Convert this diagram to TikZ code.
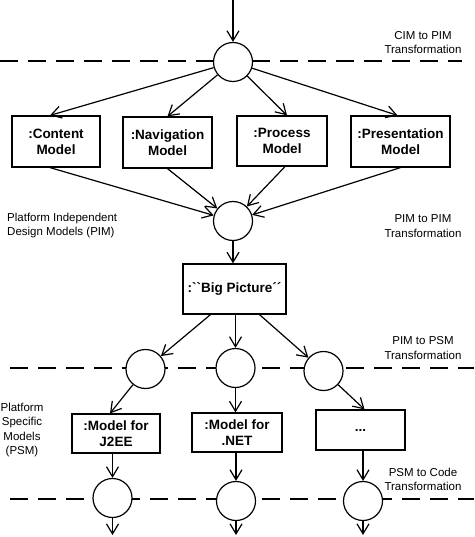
\documentclass[tikz,border=0pt]{standalone}
\usepackage{fontspec}
\newfontfamily\arial{Liberation Sans}
\usetikzlibrary{arrows.meta}

\begin{document}
\begin{tikzpicture}[x=1pt,y=-1pt,
	model/.style={draw,line width=1.2pt,align=center,inner sep=2pt,font=\arial\bfseries\fontsize{13.5}{16}\selectfont},
	trafo/.style={circle,draw,fill=white,line width=1.2pt,minimum size=39,inner sep=0pt},
	note/.style={align=center,inner sep=0pt,font=\arial\fontsize{11.5}{14.5}\selectfont},
	level/.style={line width=2.2pt,dash pattern=on 18pt off 10pt},
	flow/.style={-{Straight Barb[length=10pt,width=12pt]},line width=1.2pt}]
						\useasboundingbox (0,0) rectangle (474,537);
						\draw[level] (0,61)--(462,61);
						\draw[level] (10,368)--(474,368);
						\draw[level] (10,499)--(474,499);
						\coordinate (source) at (233,0);
						\coordinate (sink) at (0,535);
						\node[trafo] (cim) at (233,62) {};
						\node[model,minimum width=88,minimum height=51] (content) at (56,141.5) {:Content\\Model};
						\node[model,minimum width=89,minimum height=51] (navigation) at (167.5,142.5) {:Navigation\\Model};
						\node[model,minimum width=90,minimum height=50] (process) at (282,141) {:Process\\Model};
						\node[model,minimum width=99,minimum height=51] (presentation) at (400.5,141.5) {:Presentation\\Model};
						\node[trafo] (pim) at (233,221) {};
						\node[model,minimum width=103,minimum height=50] (bigpic) at (234.5,289) {:``Big Picture´´};
						\node[trafo] (psm1) at (145.5,369) {};
						\node[trafo] (psm2) at (235.5,368) {};
						\node[trafo] (psm3) at (323.5,371) {};
						\node[model,minimum width=88,minimum height=39] (j2ee) at (116,433.5) {:Model for\\J2EE};
						\node[model,minimum width=90,minimum height=39] (dotnet) at (237,432.5) {:Model for\\.NET};
						\node[model,minimum width=89,minimum height=40] (other) at (360.5,430) {...};
						\node[trafo] (code1) at (112.5,498) {};
						\node[trafo] (code2) at (236,501) {};
						\node[trafo] (code3) at (363,501) {};
						\node[note] (cimlabel) at (423,42.5) {CIM to PIM\\Transformation};
						\node[note] (pimlabel) at (423,226) {PIM to PIM\\Transformation};
						\node[note] (psmlabel) at (423,348) {PIM to PSM\\Transformation};
						\node[note] (codelabel) at (423,479.5) {PSM to Code\\Transformation};
						\node[note,align=left,anchor=west] (pimside) at (7,225.5) {Platform Independent\\Design Models (PIM)};
						\node[note] (psmside) at (22,430) {Platform\\Specific\\Models\\(PSM)};
						\draw[flow] (source)--(cim);
						\draw[flow] (cim)--([xshift=-6]content.north);
						\draw[flow] (cim)--(navigation.north);
						\draw[flow] (cim)--([xshift=5]process.north);
						\draw[flow] (cim)--([xshift=-3]presentation.north);
						\draw[flow] ([xshift=-6]content.south)--(pim);
						\draw[flow] (navigation.south)--(pim);
						\draw[flow] ([xshift=3]process.south)--(pim);
						\draw[flow] (presentation.south)--(pim);
						\draw[flow] (pim)--(pim |- bigpic.north);
						\draw[flow] ([xshift=-24]bigpic.south)--(psm1);
						\draw[flow] (psm2 |- bigpic.south)--(psm2);
						\draw[flow] ([xshift=25]bigpic.south)--(psm3);
						\draw[flow] (psm1)--([xshift=-6]j2ee.north);
						\draw[flow] (psm2)--(psm2 |- dotnet.north);
						\draw[flow] (psm3)--([xshift=4]other.north);
						\draw[flow] (code1 |- j2ee.south)--(code1);
						\draw[flow] (code2 |- dotnet.south)--(code2);
						\draw[flow] (code3 |- other.south)--(code3);
						\draw[flow] (code1)--(code1 |- sink);
						\draw[flow] (code2)--(code2 |- sink);
						\draw[flow] (code3)--(code3 |- sink);
					\end{tikzpicture}
\end{document}
